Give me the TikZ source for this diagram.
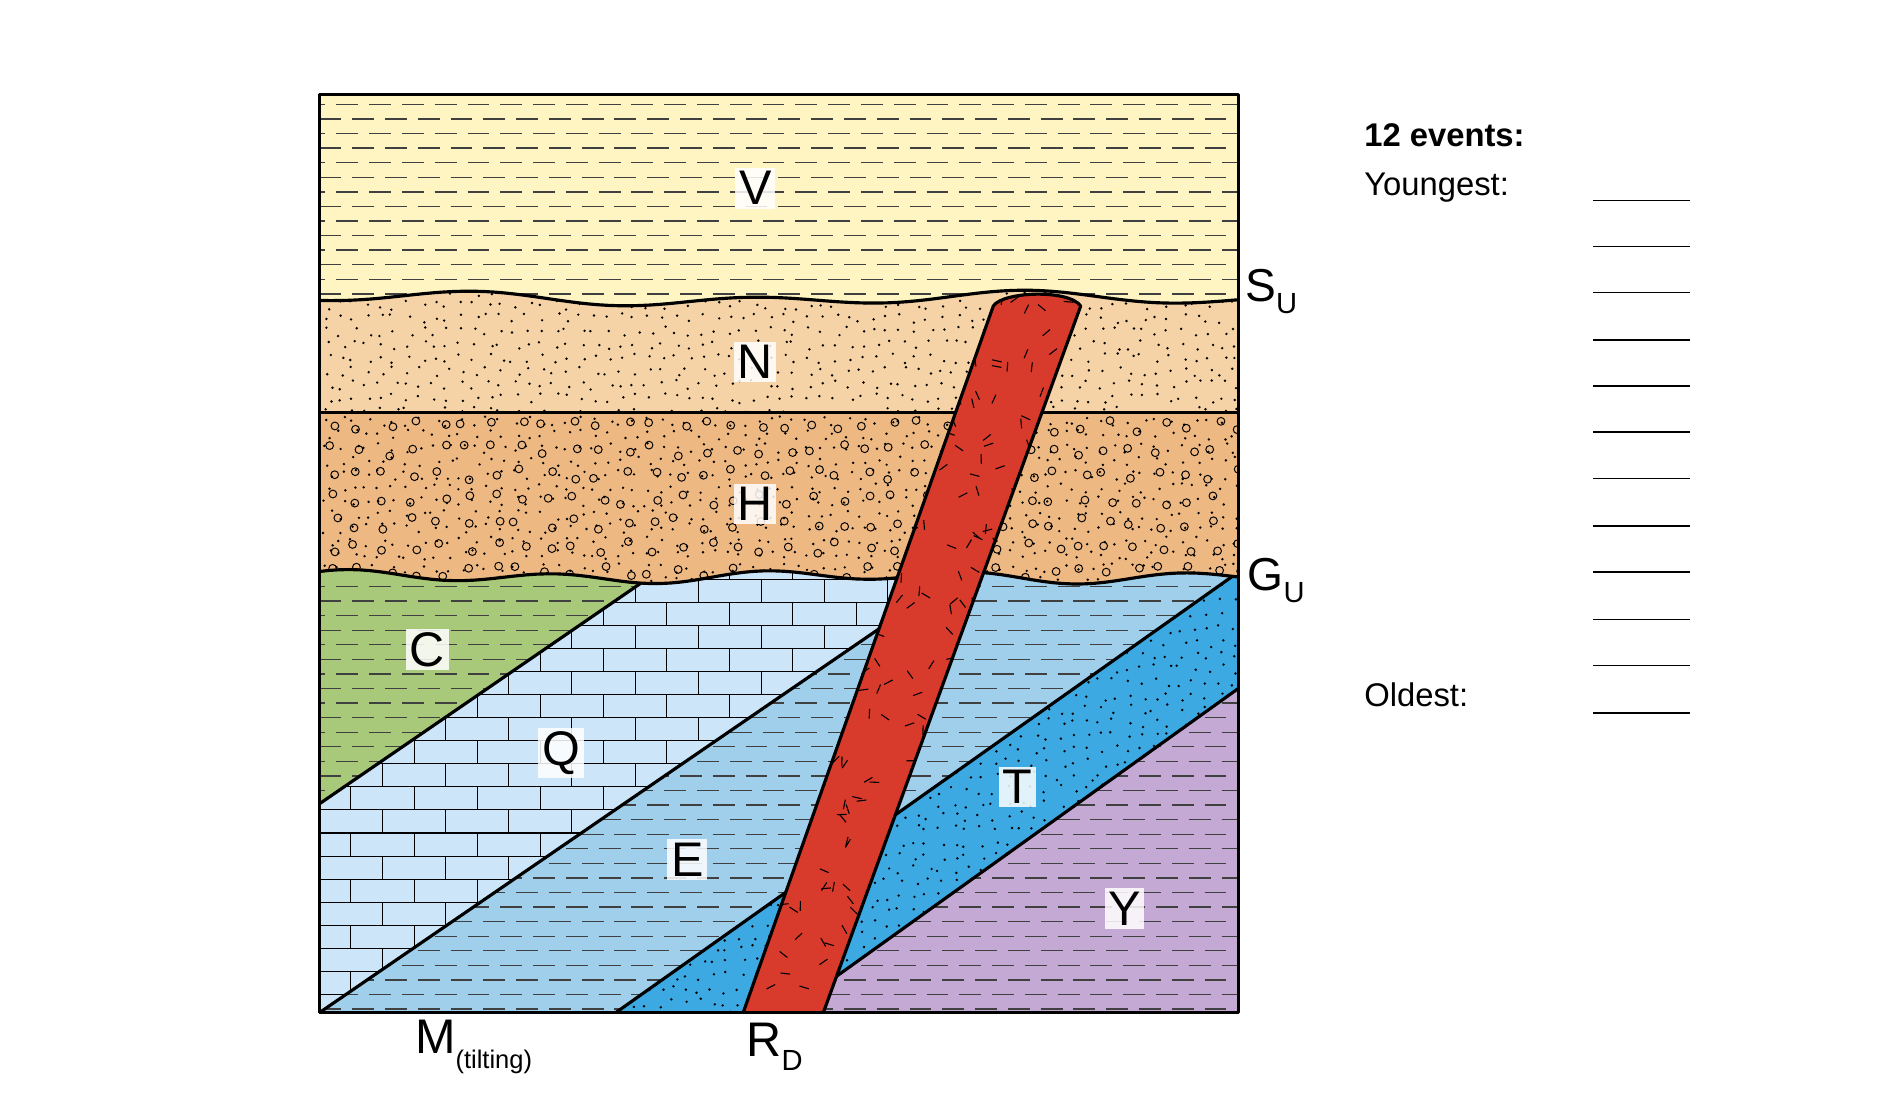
\documentclass[tikz,border=0pt]{standalone}
\usepackage{fontspec}
\setmainfont{Liberation Sans}
\begin{document}
\begin{tikzpicture}[x=1pt,y=-1pt,
  declare function={su(\t)=246+4*sin(1.6*\t)+3*sin(0.7*\t+40); gu(\t)=475+4*sin(2.1*\t+30)+2*sin(0.9*\t);},
  lab/.style={fill=white,fill opacity=0.85,text opacity=1,inner sep=3pt,font=\fontsize{40}{40}\selectfont},
  side/.style={anchor=base west,font=\fontsize{27}{30}\selectfont},
  dsh/.style={draw=black!75,line width=1.1pt},
  bd/.style={line width=2.6pt,line join=round}]
\definecolor{cV}{HTML}{FFF5C2}\definecolor{cN}{HTML}{F5D3A6}\definecolor{cH}{HTML}{EEB882}
\definecolor{cC}{HTML}{A9C97A}\definecolor{cQ}{HTML}{CDE5F8}\definecolor{cE}{HTML}{9FCFEB}
\definecolor{cT}{HTML}{3CA9E3}\definecolor{cY}{HTML}{C5A9D5}\definecolor{cD}{HTML}{D83A2B}
\useasboundingbox (0,0) rectangle (1568,904);
\pgfmathsetseed{7}
% V
\begin{scope}
\clip (263,78) -- (1020,78) -- plot[domain=1020:263,samples=90] (\x,{su(\x)}) -- cycle;
\fill[cV] (263,78) rectangle (1020,300);
\foreach \y [count=\k] in {86,98,...,260}{\draw[dsh,dash pattern=on 18pt off 9pt,dash phase={mod(\k,2)*13}] (263,\y)--(1020,\y);}
\end{scope}
% N
\begin{scope}
\clip plot[domain=263:1020,samples=90] (\x,{su(\x)}) -- (1020,340) -- (263,340) -- cycle;
\fill[cN] (263,230) rectangle (1020,340);
\foreach \gx in {266,277,...,1020}{\foreach \gy in {236,247,...,340}{\fill (\gx+8*rnd,\gy+8*rnd) circle (1.1);}}
\end{scope}
% H
\begin{scope}
\clip (263,340) -- (1020,340) -- plot[domain=1020:263,samples=90] (\x,{gu(\x)}) -- cycle;
\fill[cH] (263,340) rectangle (1020,490);
\foreach \gx in {266,277,...,1020}{\foreach \gy in {343,354,...,490}{\fill (\gx+8*rnd,\gy+8*rnd) circle (1.1);}}
\foreach \gx [count=\c] in {268,290,...,1020}{\foreach \gy in {346,366,...,490}{\draw[line width=0.8pt] (\gx+12*rnd,\gy+10*rnd) circle (3.2);}}
\end{scope}
% lower
\begin{scope}
\clip plot[domain=263:1020,samples=90] (\x,{gu(\x)}) -- (1020,834) -- (263,834) -- cycle;
\fill[cE] (263,430) rectangle (1020,834);
\fill[cC] (263,662) -- (601,430) -- (263,430) -- cycle;
\fill[cY] (647,834) -- (1211,430) -- (1300,430) -- (1300,834) -- cycle;
\foreach \y [count=\k] in {483,495,...,834}{\draw[dsh,dash pattern=on 18pt off 9pt,dash phase={mod(\k,2)*13}] (263,\y)--(1020,\y);}
\begin{scope}
\clip (263,662) -- (601,430) -- (852,430) -- (263,834) -- cycle;
\fill[cQ] (263,430) rectangle (900,834);
\foreach \y [count=\k] in {458,477,...,834}{
  \draw[line width=0.9pt] (263,\y)--(900,\y);
  \foreach \j in {0,...,12}{\draw[line width=0.9pt] ({263+52*\j+mod(\k,2)*26},\y)--++(0,19);}}
\end{scope}
\begin{scope}
\clip (507,834) -- (1078,430) -- (1211,430) -- (647,834) -- cycle;
\fill[cT] (507,430) rectangle (1020,834);
\foreach \gx in {507,518,...,1020}{\foreach \gy in {470,481,...,834}{\fill (\gx+8*rnd,\gy+8*rnd) circle (1.1);}}
\end{scope}
\draw[bd] (263,662) -- (601,430);
\draw[bd] (263,834) -- (852,430);
\draw[bd] (507,834) -- (1078,430);
\draw[bd] (647,834) -- (1211,430);
\end{scope}
% boundaries
\draw[bd] plot[domain=263:1020,samples=90] (\x,{su(\x)});
\draw[bd] (263,340) -- (1020,340);
\draw[bd] plot[domain=263:1020,samples=90] (\x,{gu(\x)});
% dike
\path[fill=cD] (612,834) -- (818,252) .. controls (826,240) and (880,238) .. (890,252) -- (678,834) -- cycle;
\begin{scope}
\clip (612,834) -- (818,252) .. controls (826,240) and (880,238) .. (890,252) -- (678,834) -- cycle;
\foreach \i in {1,...,380}{\draw[line width=0.9pt] (600+290*rnd,240+594*rnd) -- ++(360*rnd:8);}
\end{scope}
\draw[bd] (612,834) -- (818,252) .. controls (826,240) and (880,238) .. (890,252) -- (678,834);
\draw[bd] (263,78) rectangle (1020,834);
% labels
\node[lab] (V) at (622,155) {V};
\node[lab] (N) at (622,298) {N};
\node[lab] (H) at (622,415) {H};
\node[lab] (C) at (352,535) {C};
\node[lab] (Q) at (462,620) {Q};
\node[lab] (E) at (566,708) {E};
\node[lab] (T) at (838,648) {T};
\node[lab] (Y) at (926,748) {Y};
\node[anchor=west,font=\fontsize{38}{38}\selectfont] (SU) at (1022,240) {S\raisebox{-0.25em}{\fontsize{24}{24}\selectfont U}};
\node[anchor=west,font=\fontsize{38}{38}\selectfont] (GU) at (1024,478) {G\raisebox{-0.25em}{\fontsize{24}{24}\selectfont U}};
\node[font=\fontsize{40}{40}\selectfont] (M) at (390,862) {M\raisebox{-0.3em}{\fontsize{21}{21}\selectfont(tilting)}};
\node[font=\fontsize{40}{40}\selectfont] (R) at (638,862) {R\raisebox{-0.3em}{\fontsize{24}{24}\selectfont D}};
\node[side,font=\fontsize{27}{30}\selectfont\bfseries] (ev) at (1120,121) {12 events:};
\node[side] (yo) at (1120,161) {Youngest:};
\node[side] (ol) at (1120,582) {Oldest:};
\foreach \y in {165,203,241,280,318,356,394,433,471,510,548,587}{\draw[line width=1.3pt] (1312,\y) -- (1392,\y);}
\end{tikzpicture}
\end{document}
